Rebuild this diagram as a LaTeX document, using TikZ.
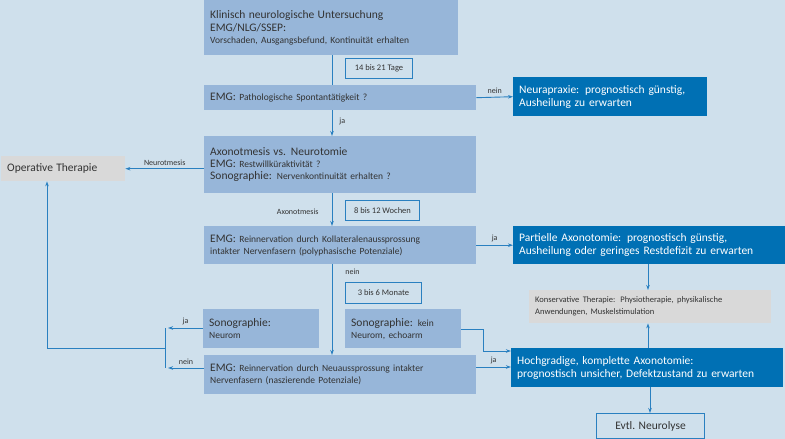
\documentclass[tikz,border=0pt]{standalone}
\usepackage{fontspec}
\setmainfont{Carlito}
\usetikzlibrary{arrows.meta}
\definecolor{bgc}{HTML}{CFE0EC}
\definecolor{lbox}{HTML}{97B6D9}
\definecolor{dbox}{HTML}{0070B4}
\definecolor{gbox}{HTML}{D9D9D9}
\definecolor{lnc}{HTML}{2A80C0}
\definecolor{txc}{HTML}{333333}
\newcommand{\bx}[7]{\node[#6,anchor=north west,minimum width=#4pt,minimum height=#5pt,text width=#4pt-12pt] (#1) at (#2pt,-#3pt) {#7};}
\newcommand{\bgf}{\fontsize{11.5}{13}\selectfont}
\newcommand{\smf}{\fontsize{9.5}{12}\selectfont}
\tikzset{
 lb/.style={fill=lbox,inner sep=6pt,align=left,text=txc},
 db/.style={fill=dbox,inner sep=6pt,align=left,text=white,font=\bgf},
 gb/.style={fill=gbox,inner sep=6pt,align=left,text=txc},
 tb/.style={draw=lnc,line width=1pt,fill=bgc,inner sep=3pt,align=center,text=txc,font=\fontsize{8.5}{10}\selectfont},
 ar/.style={draw=lnc,line width=0.9pt,-{Stealth[length=5pt,width=3.5pt]}},
 ln/.style={draw=lnc,line width=0.9pt},
 lab/.style={text=txc,font=\fontsize{8}{9}\selectfont,inner sep=1pt}
}
\begin{document}
\begin{tikzpicture}
\fill[bgc] (0,0) rectangle (785pt,-439pt);
\useasboundingbox (0,0) rectangle (785pt,-439pt);
\bx{top}{204}{0}{254}{55}{lb}{\bgf Klinisch neurologische Untersuchung\\EMG/NLG/SSEP:\\\smf Vorschaden, Ausgangsbefund, Kontinuität erhalten}
\bx{emga}{204}{85}{272}{25}{lb}{\bgf EMG: \smf Pathologische Spontantätigkeit ?}
\bx{neura}{513}{77}{194}{39}{db}{Neurapraxie: prognostisch günstig,\\Ausheilung zu erwarten}
\bx{axo}{204}{136}{272}{57}{lb}{\bgf Axonotmesis vs. Neurotomie\\EMG: \smf Restwillküraktivität ?\\\bgf Sonographie: \smf Nervenkontinuität erhalten ?}
\bx{op}{1}{156}{124}{25}{gb}{\bgf Operative Therapie}
\bx{emgb}{204}{226}{272}{38}{lb}{\bgf EMG: \smf Reinnervation durch Kollateralenaussprossung\\intakter Nervenfasern (polyphasische Potenziale)}
\bx{part}{513}{226}{272}{38}{db}{Partielle Axonotomie: prognostisch günstig,\\Ausheilung oder geringes Restdefizit zu erwarten}
\bx{sona}{203}{309}{116}{39}{lb}{\bgf Sonographie:\\\smf Neurom}
\bx{sonb}{345}{309}{116}{39}{lb}{\bgf Sonographie: \smf kein\\Neurom, echoarm}
\bx{emgc}{204}{355}{272}{39}{lb}{\bgf EMG: \smf Reinnervation durch Neuaussprossung intakter\\Nervenfasern (naszierende Potenziale)}
\bx{kons}{529}{290}{242}{33}{gb}{\fontsize{8.5}{12}\selectfont Konservative Therapie: Physiotherapie, physikalische\\Anwendungen, Muskelstimulation}
\bx{hoch}{511}{348}{272}{39}{db}{Hochgradige, komplette Axonotomie:\\prognostisch unsicher, Defektzustand zu erwarten}
\node[draw=lnc,line width=1pt,fill=bgc,anchor=north west,minimum width=108pt,minimum height=25pt,inner sep=2pt,text=txc,font=\bgf] (neuro) at (596pt,-413pt) {Evtl. Neurolyse};
\node[tb,anchor=north west,minimum width=67pt,minimum height=20pt] (t1) at (345pt,-58pt) {14 bis 21 Tage};
\node[tb,anchor=north west,minimum width=74pt,minimum height=20pt] (t2) at (345pt,-200pt) {8 bis 12 Wochen};
\node[tb,anchor=north west,minimum width=76pt,minimum height=21pt] (t3) at (345pt,-282pt) {3 bis 6 Monate};
\draw[ln] (top.south -| 332pt,0) -- (emga.north -| 332pt,0);
\draw[ar] (emga.south -| 332pt,0) -- (axo.north -| 332pt,0) node[lab,pos=0.45,right=6pt] {ja};
\draw[ar] (axo.south -| 332pt,0) -- (emgb.north -| 332pt,0) node[lab,pos=0.55,left=12pt] {Axonotmesis};
\draw[ar] (emgb.south -| 332pt,0) -- (emgc.north -| 332pt,0) node[lab,pos=0.08,right=12pt] {nein};
\draw[ar] (emga.east) -- (neura.west) node[lab,midway,above=2pt] {nein};
\draw[ar] (axo.west |- op.east) -- (op.east) node[lab,midway,above=2pt] {Neurotmesis};
\draw[ar] (emgb.east) -- (part.west) node[lab,midway,above=2pt] {ja};
\coordinate (br) at (165pt,-348pt);
\draw[ar] (sona.west |- 0,-328pt) -- (168pt,-328pt) node[lab,midway,above=2pt] {ja};
\draw[ar] (emgc.west |- 0,-368pt) -- (168pt,-368pt) node[lab,midway,above=2pt] {nein};
\draw[ln] (165pt,-328pt) -- (165pt,-368pt);
\draw[ar] (br) -- (47pt,-348pt) -- (op.south -| 47pt,0);
\draw[ar] (sonb.east |- 0,-329pt) -- (483pt,-329pt) -- (483pt,-351pt) -- (hoch.west |- 0,-351pt);
\draw[ar] (emgc.east |- 0,-367pt) -- (hoch.west |- 0,-367pt) node[lab,midway,above=2pt] {ja};
\draw[ar] (part.south -| 648pt,0) -- (kons.north -| 648pt,0);
\draw[ar] (hoch.north -| 648pt,0) -- (kons.south -| 648pt,0);
\draw[ar] (hoch.south -| 650pt,0) -- (neuro.north -| 650pt,0);
\end{tikzpicture}
\end{document}
